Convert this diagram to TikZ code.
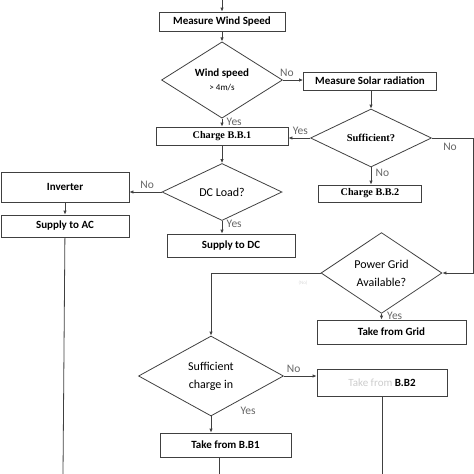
\documentclass[tikz,border=0pt]{standalone}
\usepackage{fontspec}
\setmainfont{Carlito}
\newfontfamily\timesbb{Liberation Serif}
\usetikzlibrary{shapes.geometric,arrows.meta,calc}

\begin{document}
\begin{tikzpicture}[x=1pt, y=-1pt,
    box/.style={draw=black!75, line width=0.8pt, inner sep=0pt, font=\bfseries\fontsize{11}{12}\selectfont},
    decision/.style={diamond, draw=black!75, line width=0.8pt, inner sep=0pt, align=center, font=\mdseries\fontsize{12}{18}\selectfont},
    lbl/.style={text=black!60, font=\fontsize{11.5}{12}\selectfont},
    flow/.style={draw=black!75, line width=0.8pt, -{Latex[length=4pt,width=3.5pt]}},
    line/.style={draw=black!75, line width=0.8pt}]

    \useasboundingbox (0,0) rectangle (474,474);

    % start and free ends
    \coordinate (start) at (222,0);
    \coordinate (acend) at (63,474);
    \coordinate (bb1end) at (219,474);
    \coordinate (bb2end) at (382,474);
    \coordinate (rightup) at (473,138);
    \coordinate (rightdown) at (473,273);
    \coordinate (gridleft) at (211,273);

    % boxes
    \node[box, minimum width=126pt, minimum height=19pt] (mws) at (222,21.5) {Measure Wind Speed};
    \node[box, minimum width=133pt, minimum height=18pt] (msr) at (370,81) {Measure Solar radiation};
    \node[box, minimum width=132pt, minimum height=18pt, font=\timesbb\bfseries\fontsize{10.2}{11}\selectfont] (cbb1) at (222,136) {Charge B.B.1};
    \node[box, minimum width=103pt, minimum height=17pt, font=\timesbb\bfseries\fontsize{10.2}{11}\selectfont] (cbb2) at (370,193.5) {Charge B.B.2};
    \node[box, minimum width=128pt, minimum height=30pt] (inv) at (65,187) {Inverter};
    \node[box, minimum width=128pt, minimum height=22pt] (ac) at (65,226) {Supply to AC};
    \node[box, minimum width=128pt, minimum height=23pt] (sdc) at (231,245.5) {Supply to DC};
    \node[box, minimum width=149pt, minimum height=24pt] (tfg) at (391.5,332) {Take from Grid};
    \node[box, minimum width=131pt, minimum height=24pt] (tbb1) at (225.5,445) {Take from B.B1};
    \node[box, minimum width=130pt, minimum height=27pt] (tbb2) at (382,382.5) {\textcolor{black!20}{\mdseries Take from} B.B2};

    % decisions
    \node[decision, minimum width=121pt, minimum height=60pt, font=\bfseries\fontsize{11}{13}\selectfont] (ws) at (222,80) {Wind speed\\[1pt] \mdseries\fontsize{9}{10}\selectfont > 4m/s};
    \node[decision, minimum width=121pt, minimum height=58pt, font=\timesbb\bfseries\fontsize{10.5}{11}\selectfont] (suf) at (371,138) {Sufficient?};
    \node[decision, minimum width=120pt, minimum height=57pt] (dcl) at (222,192) {DC Load?};
    \node[decision, minimum width=121pt, minimum height=58pt] (pg) at (381.5,273) {Power Grid\\Available?};
    \node[decision, minimum width=145pt, minimum height=80pt] (sci) at (211,376) {Sufficient\\charge in};

    % connectors
    \draw[flow] (start) -- (mws);
    \draw[flow] (mws) -- (ws);
    \draw[flow] (ws.east) -- (ws.east -| msr.west) node[lbl, above, pos=0.2] {No};
    \draw[flow] (ws.south) -- (ws.south |- cbb1.north) node[lbl, right, pos=0.4, xshift=1pt] {Yes};
    \draw[flow] (msr.south -| suf.north) -- (suf.north);
    \draw[flow] (suf.west) -- (suf.west -| cbb1.east) node[lbl, above, pos=0.45] {Yes};
    \draw[flow] (suf.south) -- (suf.south |- cbb2.north) node[lbl, right, pos=0.3, xshift=1pt] {No};
    \draw[line] (suf.east) -- (rightup);
    \draw[flow] (rightup) -- (rightdown) -- (pg.east);
    \node[lbl] at (450,147) {No};
    \draw[flow] (cbb1) -- (dcl);
    \draw[flow] (dcl.west) -- (dcl.west -| inv.east) node[lbl, above, pos=0.45] {No};
    \draw[flow] (dcl.south) -- (dcl.south |- sdc.north) node[lbl, right, pos=0.2, xshift=1pt] {Yes};
    \draw[flow] (inv) -- (ac);
    \draw[line] (ac) -- (acend);
    \draw[flow] (pg.west) -- (gridleft) -- (sci.north);
    \node[text=black!15, font=\fontsize{5}{6}\selectfont] at (303,283) {(No)};
    \draw[flow] (pg.south) -- (pg.south |- tfg.north) node[lbl, right, pos=0.4, xshift=2pt] {Yes};
    \draw[flow] (sci.east) -- (sci.east -| tbb2.west) node[lbl, above, pos=0.3] {No};
    \draw[flow] (sci.south) -- (sci.south |- tbb1.north);
    \node[lbl] at (248,411) {Yes};
    \draw[line] (tbb1.south -| bb1end) -- (bb1end);
    \draw[line] (tbb2) -- (bb2end);

\end{tikzpicture}
\end{document}
